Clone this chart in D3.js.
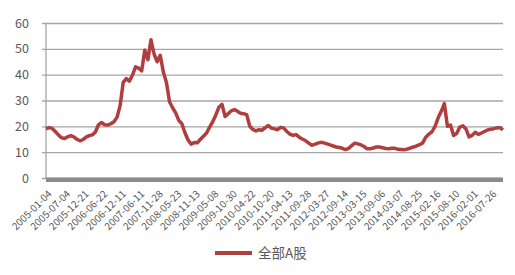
<!DOCTYPE html>
<html>
<head>
<meta charset="utf-8">
<script src="https://cdn.jsdelivr.net/npm/d3@7"></script>
<style>
  body { margin: 0; background: #fff; }
  text { font-family: "Noto Sans CJK SC", "Noto Sans", sans-serif; fill: #595959; }
</style>
</head>
<body>
<div id="chart"></div>
<script>
// tick labels, one every 6 samples (samples are ~20 trading days apart)
var tickDates = ["2005-01-04","2005-07-04","2005-12-21","2006-06-22","2006-12-11",
  "2007-06-11","2007-11-28","2008-05-23","2008-11-13","2009-05-08","2009-10-30",
  "2010-04-22","2010-10-20","2011-04-13","2011-09-28","2012-03-27","2012-09-14",
  "2013-03-15","2013-09-06","2014-03-07","2014-08-25","2015-02-16","2015-08-10",
  "2016-02-01","2016-07-26"];
var tickStep = 6;

var seriesName = "全部A股";
var seriesValues = [
  19.0,19.5,19.2,18.0,16.7,15.6,15.3,15.9,16.4,15.9,
  15.0,14.4,14.9,15.8,16.4,16.7,17.8,20.6,21.5,20.6,
  20.5,21.0,21.8,23.5,28.0,37.0,38.5,37.5,39.8,43.0,
  42.5,41.5,49.5,45.8,53.5,48.0,45.0,47.5,41.0,37.0,
  29.5,27.2,25.2,22.3,21.0,17.5,14.7,13.1,13.7,13.6,
  15.0,16.2,17.4,19.7,21.8,24.4,27.4,28.5,23.8,24.9,
  26.0,26.5,25.8,25.1,24.9,24.5,20.0,18.8,18.2,18.7,
  18.5,19.5,20.3,19.3,19.0,18.7,19.6,19.3,18.0,17.0,
  16.5,16.8,15.8,15.1,14.5,13.6,12.7,13.0,13.5,13.8,
  13.6,13.2,12.8,12.4,12.0,11.8,11.5,11.0,11.5,12.5,
  13.5,13.2,12.8,12.2,11.3,11.3,11.6,12.0,12.0,11.7,
  11.4,11.3,11.5,11.5,11.1,11.0,10.9,11.2,11.6,12.0,
  12.4,12.9,13.6,15.8,17.0,17.9,20.0,23.3,25.8,28.8,
  20.0,20.5,16.5,17.2,19.7,20.2,19.0,15.9,16.5,17.7,
  16.9,17.4,18.0,18.6,18.9,19.1,19.4,19.5,18.6
];
var yTicks = [0, 10, 20, 30, 40, 50, 60];

var W = 515, H = 275;
var margin = {top: 23, right: 12, bottom: 97, left: 46};
var width = W - margin.left - margin.right,
    height = H - margin.top - margin.bottom;

var svg = d3.select("#chart").append("svg")
  .attr("width", W).attr("height", H)
  .append("g")
  .attr("transform", "translate(" + margin.left + "," + margin.top + ")");

var x = d3.scaleLinear().domain([0, seriesValues.length - 1]).range([0, width]);
var y = d3.scaleLinear().domain([0, 60]).range([height, 0]);

// grid lines + y labels
svg.append("g")
  .call(d3.axisLeft(y).tickValues(yTicks).tickSize(-width - 4).tickPadding(17))
  .call(function(g) {
    g.select(".domain").remove();
    g.selectAll(".tick line").attr("x1", -4).attr("x2", width)
      .attr("stroke", "#a6a6a6").attr("stroke-width", 1.3);
    g.selectAll(".tick text").attr("font-size", "12.5px").style("fill", "#595959");
  });

// y axis line
svg.append("line")
  .attr("x1", 0).attr("x2", 0).attr("y1", 0).attr("y2", height)
  .attr("stroke", "#a6a6a6").attr("stroke-width", 1.3);

// thick bottom bar
svg.append("rect")
  .attr("x", 0).attr("y", height - 0.5)
  .attr("width", width).attr("height", 4.5)
  .attr("fill", "#8c8c8c");

// x tick labels
var xTickIdx = tickDates.map(function(d, i) { return i * tickStep; });
svg.append("g")
  .attr("transform", "translate(0," + (height + 10) + ")")
  .selectAll("text")
  .data(tickDates)
  .enter()
  .append("text")
  .attr("transform", function(d, i) {
    return "translate(" + (x(xTickIdx[i]) + 4) + ",4) rotate(-45)";
  })
  .attr("text-anchor", "end")
  .attr("dy", "0.35em")
  .attr("font-size", "10px")
  .text(function(d) { return d; });

// series line
var line = d3.line()
  .x(function(d, i) { return x(i); })
  .y(function(d) { return y(d); });

svg.append("path")
  .datum(seriesValues)
  .attr("fill", "none")
  .attr("stroke", "#b13e3e")
  .attr("stroke-width", 3.5)
  .attr("stroke-linejoin", "round")
  .attr("d", line);

// legend
var legend = svg.append("g")
  .attr("transform", "translate(" + (215 - margin.left) + "," + (253 - margin.top) + ")");
legend.append("line")
  .attr("x1", 0).attr("x2", 37).attr("y1", 0).attr("y2", 0)
  .attr("stroke", "#b13e3e").attr("stroke-width", 4);
legend.append("text")
  .attr("x", 43).attr("y", 0).attr("dy", "0.35em")
  .attr("font-size", "13.5px")
  .text(seriesName);
</script>
</body>
</html>
